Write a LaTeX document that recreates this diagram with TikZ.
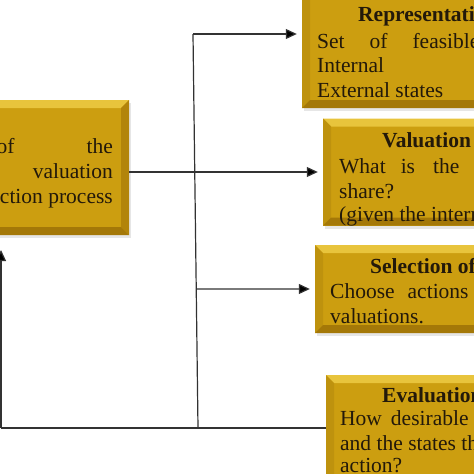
\documentclass[tikz,border=0pt]{standalone}
\usepackage{fontspec}
\setmainfont{Liberation Serif}
\usetikzlibrary{arrows.meta,shadows,calc}
\definecolor{goldmid}{RGB}{204,158,16}
\definecolor{goldtop}{RGB}{232,196,60}
\definecolor{goldleft}{RGB}{190,146,14}
\definecolor{goldright}{RGB}{178,132,10}
\definecolor{goldbot}{RGB}{164,120,8}
\definecolor{ink}{RGB}{35,25,10}
\definecolor{wire}{RGB}{50,50,50}
\tikzset{
    bevel/.style={path picture={
      \coordinate (nw) at (path picture bounding box.north west);
      \coordinate (ne) at (path picture bounding box.north east);
      \coordinate (sw) at (path picture bounding box.south west);
      \coordinate (se) at (path picture bounding box.south east);
      \fill[goldtop] (nw) -- (ne) -- ([xshift=-8pt,yshift=-8pt]ne) -- ([xshift=8pt,yshift=-8pt]nw) -- cycle;
      \fill[goldleft] (nw) -- (sw) -- ([xshift=8pt,yshift=8pt]sw) -- ([xshift=8pt,yshift=-8pt]nw) -- cycle;
      \fill[goldright] (ne) -- (se) -- ([xshift=-8pt,yshift=8pt]se) -- ([xshift=-8pt,yshift=-8pt]ne) -- cycle;
      \fill[goldbot] (sw) -- (se) -- ([xshift=-8pt,yshift=8pt]se) -- ([xshift=8pt,yshift=8pt]sw) -- cycle;
    }},
    panel/.style={rectangle, inner sep=0pt, fill=goldmid, bevel,
      drop shadow={opacity=0.2, shadow xshift=2pt, shadow yshift=-3pt}},
    txt/.style={anchor=base west, inner sep=0pt, text=ink, font=\fontsize{21.5}{26}\selectfont},
    ttl/.style={txt, font=\fontsize{21.5}{26}\selectfont\bfseries},
    link/.style={draw=wire, line width=1.2pt},
    arr/.style={link, -{Triangle[length=11pt,width=10pt,fill=black]}, shorten >=5pt},
  }
\begin{document}
\begin{tikzpicture}[x=1pt,y=-1pt]
  \useasboundingbox (0,0) rectangle (474,474);

  %boxes
  \node[panel, minimum width=249pt, minimum height=135pt] (proc) at (4.5,167.5) {};
  \node[panel, minimum width=258pt, minimum height=138pt] (rep) at (431,39) {};
  \node[panel, minimum width=237pt, minimum height=107pt] (val) at (441.5,172) {};
  \node[panel, minimum width=245pt, minimum height=88pt] (sel) at (437.5,289) {};
  \node[panel, minimum width=234pt, minimum height=145pt] (eva) at (443,447.5) {};

  %left box
  \node[txt, anchor=base east] (proc1) at (113,153) {of\hspace{72pt}the};
  \node[txt, anchor=base east] (proc2) at (113,178) {valuation};
  \node[txt, anchor=base east] (proc3) at (113,203) {action process};

  %representation
  \node[ttl] (rep0) at (358,21) {Representation};
  \node[txt] (rep1) at (317,48) {Set\hspace{25pt}of\hspace{25pt}feasible};
  \node[txt] (rep2) at (317,72) {Internal};
  \node[txt] (rep3) at (317,97) {External states};

  %valuation
  \node[ttl] (val0) at (382,147) {Valuation};
  \node[txt] (val1) at (339,173) {What\hspace{15pt}is\hspace{18pt}the};
  \node[txt] (val2) at (339,198) {share?};
  \begin{scope}
    \clip (val.north west) rectangle (val.south east);
    \node[txt] (val3) at (339,221) {(given the internal};
  \end{scope}

  %selection
  \node[ttl] (sel0) at (370,273) {Selection of};
  \node[txt] (sel1) at (330,298) {Choose\hspace{13pt}actions};
  \node[txt] (sel2) at (330,323) {valuations.};

  %evaluation
  \node[ttl] (eva0) at (382,402) {Evaluation};
  \node[txt] (eva1) at (340,425) {How\hspace{9pt}desirable};
  \node[txt] (eva2) at (340,450) {and the states that};
  \node[txt] (eva3) at (340,472) {action?};

  %connectors
  \coordinate (top) at (193,34);
  \coordinate (bot) at (198,428);
  \coordinate (tap) at ($(top)!0.647!(bot)$);
  \coordinate (corner) at (1,428);
  \coordinate (up) at (1,250);
  \draw[link] (top) -- (bot);
  \draw[arr] (top) -- (rep.west |- top);
  \draw[arr] (proc.east |- val.west) -- (val.west);
  \draw[arr] (tap) -- (sel.west);
  \draw[link] (corner) -- (eva.west |- corner);
  \draw[arr, shorten >=0pt] (corner) -- (up);
\end{tikzpicture}
\end{document}
